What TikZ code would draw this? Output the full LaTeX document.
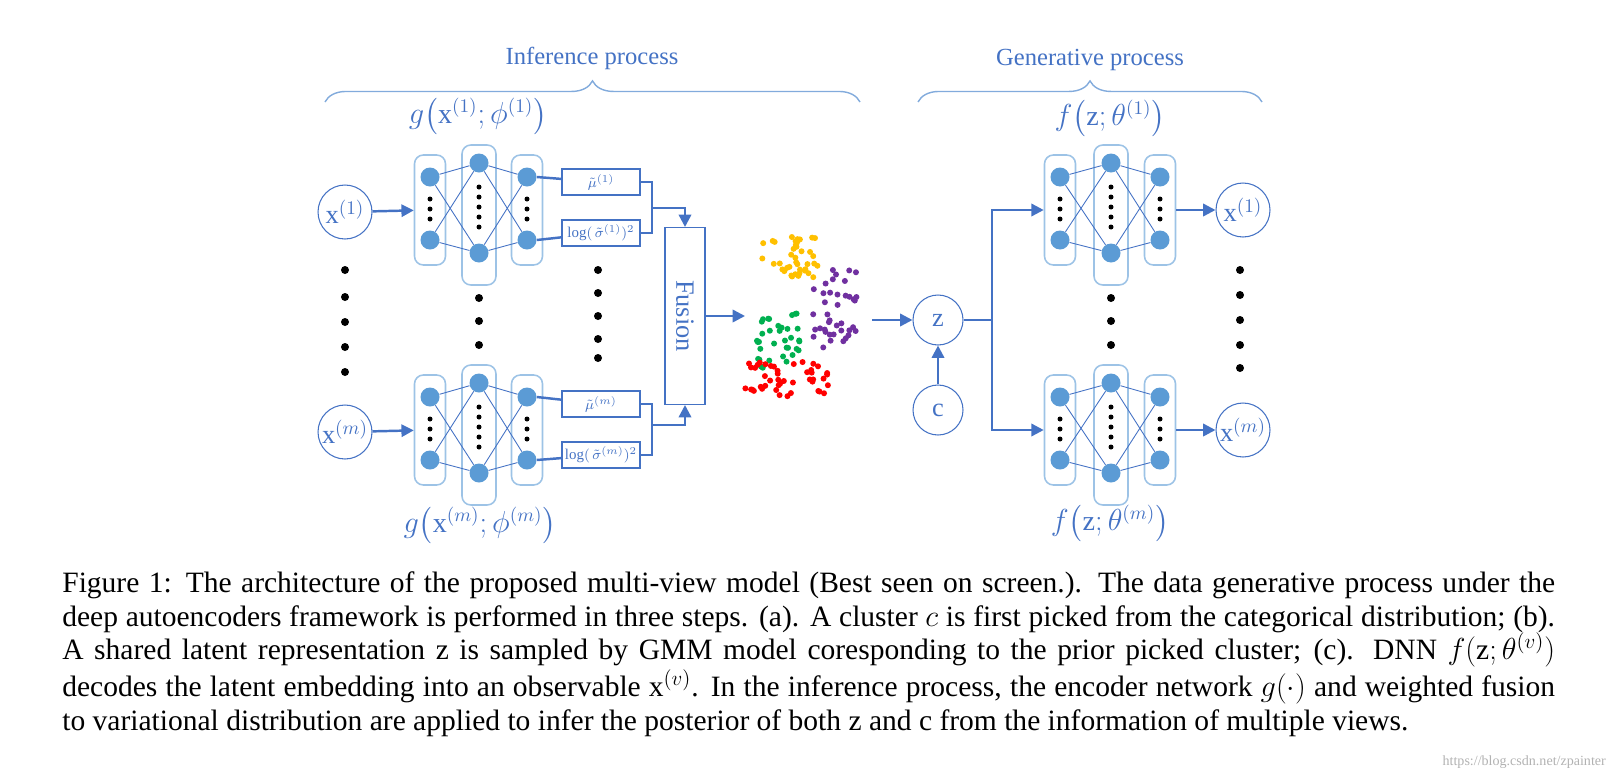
\documentclass[tikz,border=0pt]{standalone}
\usepackage{amsmath}
\usepackage{fontspec}
\setmainfont{Liberation Serif}
\usetikzlibrary{arrows.meta,decorations.pathreplacing,calc}
\definecolor{netblue}{RGB}{68,114,196}
\definecolor{neuron}{RGB}{91,155,213}
\definecolor{layerc}{RGB}{157,195,230}
\definecolor{cyel}{RGB}{255,192,0}
\definecolor{cpur}{RGB}{112,48,160}
\definecolor{cgrn}{RGB}{0,176,80}
\definecolor{cred}{RGB}{255,0,0}
\tikzset{
	neuron/.style={circle, fill=neuron, inner sep=0pt, minimum size=0.38cm},
	layer/.style={rectangle, rounded corners=5pt, draw=layerc, line width=0.9pt, minimum width=0.62cm},
	obsnode/.style={circle, draw=netblue, line width=0.6pt, minimum size=1.08cm, inner sep=0pt, text=netblue, font=\fontsize{15}{15}\selectfont},
	parbox/.style={rectangle, draw=netblue, line width=0.6pt, minimum width=1.56cm, minimum height=0.52cm, inner sep=0pt, text=netblue, font=\fontsize{8.5}{8.5}\selectfont},
	conn/.style={draw=netblue, line width=1.4pt},
	arr/.style={conn, -{Triangle[length=7pt,width=7pt]}},
	wire/.style={draw=netblue, line width=0.5pt},
	bigdot/.style={circle, fill=black, inner sep=0pt, minimum size=0.16cm},
	smalldot/.style={circle, fill=black, inner sep=0pt, minimum size=0.1cm},
	lbl/.style={text=netblue, font=\fontsize{16}{16}\selectfont}
}
\begin{document}
\begin{tikzpicture}[x=0.02cm, y=-0.02cm]
	\useasboundingbox (0,0) rectangle (1615,778);
	
	% braces
	\draw[layerc!70!netblue, line width=0.8pt, decorate, decoration={brace, amplitude=12pt}] (325,102) -- (860,102);
	\draw[layerc!70!netblue, line width=0.8pt, decorate, decoration={brace, amplitude=12pt}] (918,102) -- (1262,102);
	\node[text=netblue, font=\fontsize{14}{14}\selectfont] (inftitle) at (592,58) {Inference process};
	\node[text=netblue, font=\fontsize{14}{14}\selectfont] (gentitle) at (1090,60) {Generative process};
	
	% encoders and decoders
	\foreach \k/\dy in {1/0, m/220} {
		\node[obsnode] (x\k) at (345,212+\dy) {$\mathrm{x}^{(\k)}$};
		\node[layer, minimum height=2.2cm] (el1\k) at (430,210+\dy) {};
		\node[layer, minimum height=2.8cm, minimum width=0.68cm] (el2\k) at (479,215+\dy) {};
		\node[layer, minimum height=2.2cm] (el3\k) at (527,210+\dy) {};
		\node[neuron] (ea\k) at (430,177+\dy) {};
		\node[neuron] (eb\k) at (430,240+\dy) {};
		\node[neuron] (ec\k) at (479,163+\dy) {};
		\node[neuron] (ed\k) at (479,253+\dy) {};
		\node[neuron] (ee\k) at (527,177+\dy) {};
		\node[neuron] (ef\k) at (527,240+\dy) {};
		\foreach \u/\v in {ea/ec, ea/ed, eb/ec, eb/ed, ec/ee, ec/ef, ed/ee, ed/ef}
			\draw[wire] (\u\k) -- (\v\k);
		\foreach \yy in {199,209,219} \node[smalldot] at (430,\yy+\dy) {};
		\foreach \yy in {187,197,207,217,227} \node[smalldot] at (479,\yy+\dy) {};
		\foreach \yy in {199,209,219} \node[smalldot] at (527,\yy+\dy) {};
		\draw[arr] (x\k) -- (el1\k);
		
		\node[layer, minimum height=2.2cm] (dl1\k) at (1060,210+\dy) {};
		\node[layer, minimum height=2.8cm, minimum width=0.68cm] (dl2\k) at (1111,215+\dy) {};
		\node[layer, minimum height=2.2cm] (dl3\k) at (1160,210+\dy) {};
		\node[neuron] (da\k) at (1060,177+\dy) {};
		\node[neuron] (db\k) at (1060,240+\dy) {};
		\node[neuron] (dc\k) at (1111,163+\dy) {};
		\node[neuron] (dd\k) at (1111,253+\dy) {};
		\node[neuron] (de\k) at (1160,177+\dy) {};
		\node[neuron] (df\k) at (1160,240+\dy) {};
		\foreach \u/\v in {da/dc, da/dd, db/dc, db/dd, dc/de, dc/df, dd/de, dd/df}
			\draw[wire] (\u\k) -- (\v\k);
		\foreach \yy in {199,209,219} \node[smalldot] at (1060,\yy+\dy) {};
		\foreach \yy in {187,197,207,217,227} \node[smalldot] at (1111,\yy+\dy) {};
		\foreach \yy in {199,209,219} \node[smalldot] at (1160,\yy+\dy) {};
		\node[obsnode] (y\k) at (1243,210+\dy) {$\mathrm{x}^{(\k)}$};
		\draw[arr] (dl3\k) -- (y\k);
	}
	
	% variational parameters
	\node[parbox] (mu1) at (601,182) {$\tilde{\mu}^{(1)}$};
	\node[parbox] (sg1) at (601,233) {$\log(\,\tilde{\sigma}^{(1)})^2$};
	\node[parbox] (mum) at (601,404) {$\tilde{\mu}^{(m)}$};
	\node[parbox] (sgm) at (601,455) {$\log(\,\tilde{\sigma}^{(m)})^2$};
	\draw[conn] (ee1.east) -- (mu1);
	\draw[conn] (ef1.east) -- (sg1);
	\draw[conn] (eem.east) -- (mum);
	\draw[conn] (efm.east) -- (sgm);
	
	% fusion
	\node[rectangle, draw=netblue, line width=0.6pt, minimum width=0.8cm, minimum height=3.54cm, text=netblue, font=\fontsize{15}{15}\selectfont] (fusion) at (685,316) {\rotatebox{-90}{Fusion}};
	\coordinate (j1) at (652,208);
	\coordinate (jm) at (652,425);
	\draw[conn] (mu1.east) -| (j1);
	\draw[conn] (sg1.east) -| (j1);
	\draw[arr] (j1) -| (fusion.north);
	\draw[conn] (mum.east) -| (jm);
	\draw[conn] (sgm.east) -| (jm);
	\draw[arr] (jm) -| (fusion.south);
	
	% latent space
	\coordinate (cloudin) at (745,316);
	\draw[arr] (fusion) -- (cloudin);
	\pgfmathsetseed{11}
	\foreach \i in {1,...,40} \fill[cyel] (790+28*rand,258+22*rand) circle (0.06cm);
	\foreach \i in {1,...,40} \fill[cpur] (835+22*rand,310+40*rand) circle (0.06cm);
	\foreach \i in {1,...,35} \fill[cgrn] (778+22*rand,340+28*rand) circle (0.06cm);
	\foreach \i in {1,...,45} \fill[cred] (785+45*rand,380+18*rand) circle (0.06cm);
	
	\node[obsnode, minimum size=1cm] (z) at (938,320) {z};
	\node[obsnode, minimum size=1cm] (c) at (938,410) {c};
	\coordinate (cloudout) at (872,320);
	\draw[arr] (cloudout) -- (z);
	\draw[arr] (c) -- (z);
	\coordinate (split) at (992,320);
	\draw[conn] (z) -- (split);
	\draw[arr] (split) |- (dl11.west);
	\draw[arr] (split) |- (dl1m.west);
	
	% ellipsis dots
	\foreach \yy in {270,297,322,347,372} \node[bigdot] at (345,\yy) {};
	\foreach \yy in {298,321,345} \node[bigdot] at (479,\yy) {};
	\foreach \yy in {270,293,316,339,358} \node[bigdot] at (598,\yy) {};
	\foreach \yy in {298,321,345} \node[bigdot] at (1111,\yy) {};
	\foreach \yy in {270,295,320,345,368} \node[bigdot] at (1240,\yy) {};
	
	% network labels
	\node[lbl] (g1) at (478,116) {$g\big(\mathrm{x}^{(1)};\phi^{(1)}\big)$};
	\node[lbl] (gm) at (480,525) {$g\big(\mathrm{x}^{(m)};\phi^{(m)}\big)$};
	\node[lbl] (f1) at (1110,118) {$f\big(\mathrm{z};\theta^{(1)}\big)$};
	\node[lbl] (fm) at (1110,523) {$f\big(\mathrm{z};\theta^{(m)}\big)$};
	
	% caption
	\node[anchor=north west, inner sep=0pt, text width=29.86cm, align=justify, font=\fontsize{16.8}{19.3}\selectfont] (caption) at (62,571) {\hyphenpenalty=10000 Figure 1: The architecture of the proposed multi-view model (Best seen on screen.). The data generative process under the\linebreak deep autoencoders framework is performed in three steps. (a). A cluster $c$ is first picked from the categorical distribution; (b).\linebreak A shared latent representation z is sampled by GMM model coresponding to the prior picked cluster; (c). DNN $f(\mathrm{z};\theta^{(v)})$\linebreak decodes the latent embedding into an observable $\mathrm{x}^{(v)}$. In the inference process, the encoder network $g(\cdot)$ and weighted fusion\linebreak to variational distribution are applied to infer the posterior of both z and c from the information of multiple views.};
	\node[anchor=south east, text=gray!60, font=\fontsize{8}{8}\selectfont] (mark) at (1612,775) {https://blog.csdn.net/zpainter};
\end{tikzpicture}
\end{document}
